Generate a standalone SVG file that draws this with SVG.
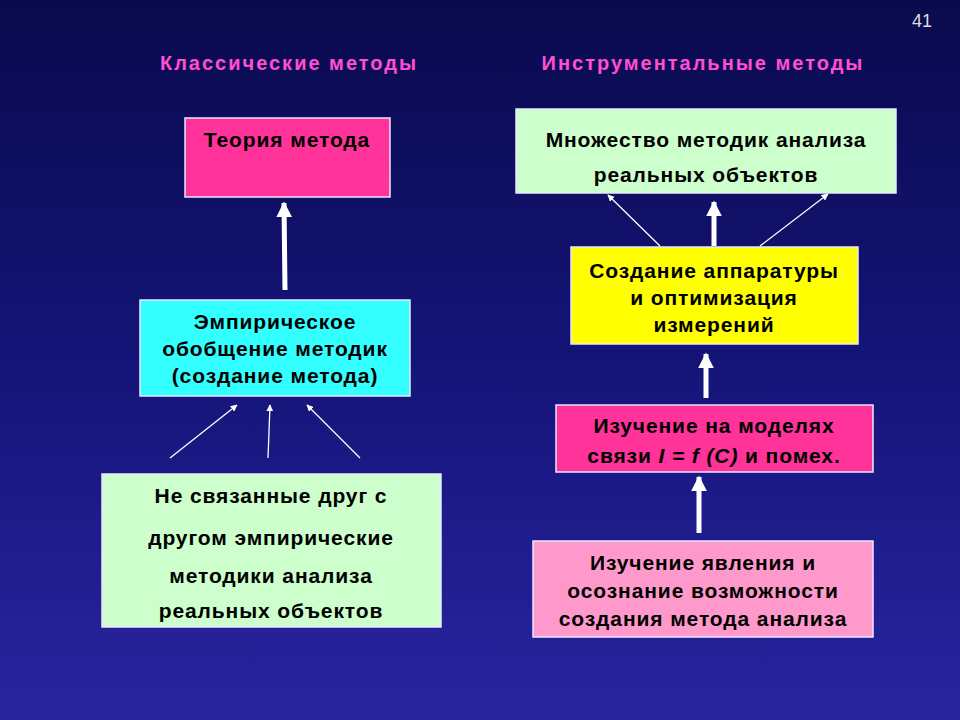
<svg xmlns="http://www.w3.org/2000/svg" width="960" height="720" viewBox="0 0 960 720">
<defs>
<linearGradient id="bg" x1="0" y1="0" x2="0" y2="1">
<stop offset="0" stop-color="#0a0a4e"/><stop offset="0.5" stop-color="#141478"/><stop offset="1" stop-color="#2a24a0"/>
</linearGradient>
<marker id="thin" viewBox="0 0 10 10" refX="9" refY="5" markerWidth="7" markerHeight="7" orient="auto" markerUnits="userSpaceOnUse"><path d="M0,0L10,5L0,10z" fill="#fff"/></marker>
<marker id="thick" viewBox="0 0 10 10" refX="9" refY="5" markerWidth="16" markerHeight="16" orient="auto" markerUnits="userSpaceOnUse"><path d="M0,0L10,5L0,10z" fill="#fff"/></marker>
</defs>
<style>
text{font-family:"Liberation Sans",Arial,sans-serif;font-weight:bold;font-size:21px;letter-spacing:0.9px;text-anchor:middle;fill:#000}
.h{fill:#ff4fd0;font-size:20px;letter-spacing:2px}
rect{stroke:#e8e8ff;stroke-width:1.5}
.tn{stroke:#fff;stroke-width:1.3;fill:none;marker-end:url(#thin)}
.tk{stroke:#fff;stroke-width:5;fill:none;marker-end:url(#thick)}
</style>
<rect x="0" y="0" width="960" height="720" fill="url(#bg)" style="stroke:none"/>
<text x="922" y="27" style="font-weight:normal;fill:#ddd;font-size:18px;letter-spacing:0">41</text>
<text class="h" x="289" y="70">Классические методы</text>
<text class="h" x="703" y="70">Инструментальные методы</text>
<g id="n1"><rect x="185" y="118" width="205" height="79" fill="#ff3399"/><text x="287" y="147">Теория метода</text></g>
<g id="n2"><rect x="140" y="300" width="270" height="96" fill="#33ffff"/><text x="275" y="329">Эмпирическое</text><text x="275" y="356">обобщение методик</text><text x="275" y="383">(создание метода)</text></g>
<g id="n3"><rect x="102" y="474" width="339" height="153" fill="#ccffcc"/><text x="271" y="503">Не связанные друг с</text><text x="271" y="545">другом  эмпирические</text><text x="271" y="583">методики анализа</text><text x="271" y="618">реальных объектов</text></g>
<g id="n4"><rect x="516" y="109" width="380" height="84" fill="#ccffcc"/><text x="706" y="147">Множество методик  анализа</text><text x="706" y="182">реальных объектов</text></g>
<g id="n5"><rect x="571" y="247" width="287" height="97" fill="#ffff00"/><text x="714" y="278">Создание аппаратуры</text><text x="714" y="305">и оптимизация</text><text x="714" y="332">измерений</text></g>
<g id="n6"><rect x="556" y="405" width="317" height="67" fill="#ff3399"/><text x="714" y="433">Изучение на моделях</text><text x="714" y="463">связи <tspan font-style="italic">I = f (C)</tspan>  и  помех.</text></g>
<g id="n7"><rect x="533" y="541" width="340" height="96" fill="#ff99cc"/><text x="703" y="570">Изучение  явления и</text><text x="703" y="598">осознание возможности</text><text x="703" y="626">создания метода анализа</text></g>
<g id="connectors">
<line class="tk" x1="285" y1="290" x2="284" y2="203"/>
<line class="tn" x1="170" y1="458" x2="237" y2="405"/>
<line class="tn" x1="268" y1="458" x2="270" y2="405"/>
<line class="tn" x1="360" y1="458" x2="307" y2="405"/>
<line class="tn" x1="660" y1="246" x2="608" y2="195"/>
<line class="tk" x1="714" y1="246" x2="714" y2="202"/>
<line class="tn" x1="760" y1="246" x2="828" y2="194"/>
<line class="tk" x1="706" y1="398" x2="706" y2="354"/>
<line class="tk" x1="699" y1="533" x2="699" y2="477"/>
</g>
</svg>
